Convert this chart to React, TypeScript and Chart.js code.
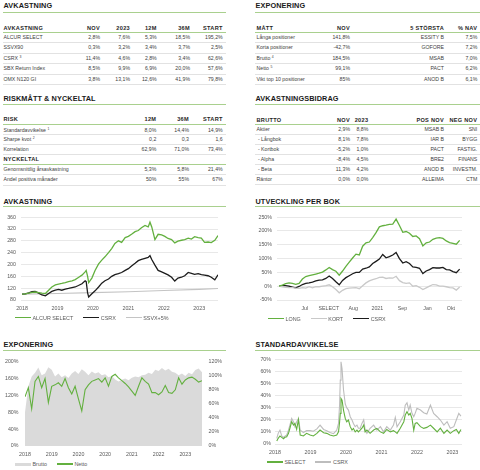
import React, { useEffect, useRef } from "react";
import { Chart, registerables } from "chart.js";

Chart.register(...registerables);

const FONT = "'Liberation Sans', Arial, Helvetica, sans-serif";
Chart.defaults.font.family = FONT;
Chart.defaults.font.size = 5.3;
Chart.defaults.color = "#595959";

// ---------------- colours ----------------
const GREEN = "#63b03f";
const BLACK = "#1c1c1c";
const LIGHT_GREEN = "#a9d08e";

// ---------------- table data ----------------
const avkHeader = ["AVKASTNING", "NOV", "2023", "12M", "36M", "START"];
const avkRows = [
  ["ALCUR SELECT", "2,8%", "7,6%", "5,3%", "18,5%", "195,2%"],
  ["SSVX90", "0,3%", "3,2%", "3,4%", "3,7%", "2,5%"],
  ["CSRX", "11,4%", "4,6%", "2,8%", "3,4%", "62,6%"],
  ["SBX Return Index", "8,5%", "9,9%", "6,9%", "20,0%", "57,6%"],
  ["OMX N120 GI", "3,8%", "13,1%", "12,6%", "41,9%", "79,8%"],
];
const avkSups = ["", "", "3", "", ""];

const expHeader = ["MÅTT", "NOV", "5 STÖRSTA", "% NAV"];
const expRows = [
  ["Långa positioner", "141,8%", "ESSITY B", "7,5%"],
  ["Korta positioner", "-42,7%", "GOFORE", "7,2%"],
  ["Brutto", "184,5%", "MSAB", "7,0%"],
  ["Netto", "99,1%", "PACT", "6,2%"],
  ["Vikt top 10 positioner", "85%", "ANOD B", "6,1%"],
];
const expSups = ["", "", "4", "5", ""];

const riskHeader = ["RISK", "12M", "36M", "START"];
const riskRows = [
  ["Standardavvikelse", "8,0%", "14,4%", "14,9%"],
  ["Sharpe kvot", "0,2", "0,3", "1,6"],
  ["Korrelation", "62,9%", "71,0%", "73,4%"],
];
const riskSups = ["1", "2", ""];
const nyckHeader = ["NYCKELTAL", "", "", ""];
const nyckRows = [
  ["Genomsnittlig årsavkastning", "5,3%", "5,8%", "21,4%"],
  ["Andel positiva månader", "50%", "55%", "67%"],
];

const bidragHeader = ["BRUTTO", "NOV", "2023", "POS NOV", "NEG NOV"];
const bidragRows = [
  ["Aktier", "2,9%", "8,8%", "MSAB B", "SNI"],
  [" - Långbok", "8,1%", "7,8%", "IAR B", "BYGG"],
  [" - Kortbok", "-5,2%", "1,0%", "PACT", "FASTIG."],
  [" - Alpha", "-8,4%", "4,5%", "BRE2", "FINANS"],
  [" - Beta", "11,3%", "4,2%", "ANOD B", "INVESTM."],
  ["Räntor", "0,0%", "0,0%", "ALLEIMA", "CTM"],
];

// ---------------- chart 1: AVKASTNING ----------------
const avkTime = [
  2018.0, 2018.09, 2018.19, 2018.28, 2018.37, 2018.47, 2018.56, 2018.66, 2018.75, 2018.84,
  2018.94, 2019.03, 2019.12, 2019.22, 2019.31, 2019.41, 2019.5, 2019.59, 2019.69, 2019.78,
  2019.81, 2019.85, 2019.88,
  2019.97, 2020.06, 2020.16, 2020.25, 2020.34, 2020.44, 2020.53, 2020.62, 2020.72, 2020.81,
  2020.91, 2021.0, 2021.09, 2021.19, 2021.28, 2021.37, 2021.47, 2021.56,
  2021.61, 2021.66,
  2021.75, 2021.84, 2021.94, 2022.03, 2022.12, 2022.22, 2022.31, 2022.4, 2022.5, 2022.59,
  2022.69, 2022.78, 2022.87, 2022.97, 2023.06, 2023.15, 2023.25, 2023.34, 2023.44, 2023.53,
];
const alcurSelect = [
  100, 101, 103, 106, 107, 105, 103, 102, 113, 124, 131, 134, 136, 139, 142, 145, 149, 156, 164, 175,
  180, 160, 139,
  154, 180, 202, 215, 226, 240, 254, 271, 280, 275, 291, 295, 302, 311, 315, 324, 332, 327,
  343, 327,
  284, 302, 300, 295, 288, 284, 273, 279, 282, 284, 289, 286, 294, 291, 289, 275, 276, 274, 282, 298,
];
const csrxIndex = [
  100, 101, 104, 108, 109, 103, 97, 94, 102, 109, 113, 116, 113, 117, 119, 122, 124, 129, 135, 145,
  142, 104, 90,
  101, 111, 124, 137, 145, 151, 160, 166, 169, 173, 180, 186, 195, 204, 213, 217, 221, 224,
  230, 217,
  198, 180, 175, 170, 165, 157, 144, 154, 157, 162, 173, 170, 167, 169, 166, 164, 162, 157, 148, 165,
];
const ssvxTime = [2018, 2019, 2020, 2021, 2022, 2023, 2023.53];
const ssvxPlus5 = [100, 102, 105, 108, 112, 116, 119];
const yearTicks = [2018, 2019, 2020, 2021, 2022, 2023];
const yearLabels = ["2018", "2019", "2020", "2021", "2022", "2023"];
const avkLegend = ["ALCUR SELECT", "CSRX", "SSVX+5%"];

// ---------------- chart 2: UTVECKLING PER BOK (weekly) ----------------
const bokLong = [
  0, 4, 9, 12, 10, 7, 10, 26, 35, 38, 41, 44, 47, 51, 59, 68, 60, 54, 40, 55,
  72, 87, 102, 116, 113, 145, 157, 160, 176, 194, 215, 219, 221, 224, 225, 243, 220, 195, 198, 192,
  180, 182, 172, 146, 157, 160, 170, 174, 176, 173, 164, 158, 155, 152, 166,
];
const bokKort = [
  0, -2, -4, -5, -5, -7, -8, -5, -7, -2, -6, -2, -2, 0, 2, 5, -2, -12, -24, -15,
  -9, -7, -6, -5, -9, 2, 12, 19, 24, 27, 32, 33, 28, 30, 29, 36, 20, 13, 10, 12,
  0, 2, -4, -12, -6, 0, 6, 5, 0, 0, -2, -5, -6, -14, -3,
];
const bokCsrx = [
  0, 2, 2, 0, -3, -6, -1, 6, 10, 12, 15, 19, 22, 23, 28, 37, 28, 16, 5, 21,
  31, 38, 45, 50, 50, 62, 65, 70, 82, 90, 98, 115, 103, 107, 113, 122, 100, 84, 89, 82,
  70, 68, 65, 46, 55, 60, 67, 66, 66, 68, 60, 59, 53, 49, 62,
];
const bokTickAt = [7.7, 14.9, 22.2, 29.4, 36.9, 44.4, 51.4];
const bokTickLabels = ["Jul", "SELECT", "Aug", "2021", "Sep", "Jan", "Okt"];
const bokLegend = ["LONG", "KORT", "CSRX"];

// ---------------- chart 3: EXPONERING ----------------
const exBrutto = [
  80, 142, 165, 174, 186, 168, 172, 187, 181, 165, 172, 163, 168, 161, 172, 178, 171, 182, 176, 168,
  177, 172, 175, 168, 170, 163, 166, 158, 153, 157, 160, 156, 162, 165, 163, 168, 169, 174, 171, 181,
  178, 185, 179, 183, 176, 174, 168, 172, 166, 174, 170, 180, 184, 175,
];
const exNetto = [
  70, 83, 53, 92, 99, 83, 96, 62, 85, 87, 90, 85, 96, 83, 74, 85, 67, 50, 80, 87,
  92, 94, 96, 91, 97, 85, 99, 102, 97, 93, 89, 84, 78, 72, 85, 97, 92, 88, 76, 76,
  73, 77, 86, 76, 75, 80, 97, 88, 94, 97, 98, 95, 91, 93,
];
const exTickAt = [0, 8, 16, 24, 32, 40, 48];
const exTickLabels = ["2018", "2019", "2020", "2020", "2021", "2022", "2023"];
const exLegend = ["Brutto", "Netto"];

// ---------------- chart 4: STANDARDAVVIKELSE ----------------
const sdTime = [
  2018.05, 2018.09, 2018.14, 2018.19, 2018.24, 2018.28, 2018.33, 2018.38, 2018.42, 2018.47,
  2018.52, 2018.56, 2018.61, 2018.66, 2018.71, 2018.8, 2018.89, 2018.99, 2019.08, 2019.18,
  2019.27, 2019.37, 2019.46, 2019.55, 2019.65, 2019.74, 2019.79, 2019.82, 2019.84, 2019.86,
  2019.89, 2019.93, 2019.98, 2020.02, 2020.07, 2020.12, 2020.17, 2020.21, 2020.26, 2020.31,
  2020.35, 2020.4, 2020.45, 2020.5, 2020.54, 2020.59, 2020.68, 2020.78, 2020.87, 2020.97,
  2021.06, 2021.15, 2021.25, 2021.34, 2021.39, 2021.44, 2021.53, 2021.63, 2021.67, 2021.72,
  2021.77, 2021.81, 2021.86, 2021.91, 2021.95, 2022.0, 2022.1, 2022.19, 2022.28, 2022.38,
  2022.47, 2022.57, 2022.66, 2022.76, 2022.85, 2022.94, 2023.04, 2023.11, 2023.18, 2023.24,
];
const sdSelect = [
  2.5, 4.7, 6.6, 5.5, 4.4, 5.5, 6, 8.8, 13, 18.4,
  15.6, 17, 12, 20, 7.4, 6.6, 8.8, 7.4, 6.6, 8.8,
  11.5, 9.3, 8.8, 7.4, 6.6, 7.4, 10, 18, 25.3, 37.6,
  36.2, 28, 21.1, 18.4, 19.8, 14.3, 11.5, 12.9, 10, 11.5,
  10, 11.5, 13, 15.6, 10, 11.5, 8.8, 11.5, 12.9, 10,
  8.8, 12, 10, 11, 10, 8.8, 13, 18.4, 23.9, 26.6,
  23.9, 25.3, 21.1, 11.5, 17, 17.6, 14.3, 12.9, 13.7, 15.6,
  13, 10, 13, 8.8, 11.5, 8.8, 11, 12, 8.8, 12,
];
const sdCsrx = [
  4.7, 8.8, 11.5, 6.6, 5.5, 6.5, 7.4, 11.5, 15.6, 21.1,
  18.4, 14.3, 18.4, 21, 11.5, 9.5, 11, 11, 10.5, 12.5,
  15.6, 12, 11, 9.5, 8.5, 11.5, 17, 32.1, 52.7, 67.8,
  62, 45, 33, 30, 28, 22.5, 19.8, 17, 14.3, 15.6,
  13, 13, 17, 20, 12, 8.8, 13, 15.6, 11.5, 14.3,
  10, 14.3, 11.5, 15.6, 22, 14.3, 18.4, 23.9, 32.1, 34,
  28, 32.1, 25.3, 22.5, 25.3, 29.4, 28, 25.8, 24.7, 32.1,
  25.3, 22.5, 19.8, 15.6, 18.4, 13, 14.3, 19.8, 25.3, 23,
];
const sdLegend = ["SELECT", "CSRX"];

// ---------------- helpers ----------------
const tickFont = { family: FONT, size: 5.3 };
const pct = (v: any) => `${v}%`;

function yAxis(opts: {
  min: number; max: number; step: number; width: number; pad: number;
  fmt?: (v: any) => string; position?: "left" | "right"; grid?: boolean;
}) {
  return {
    type: "linear",
    position: opts.position || "left",
    min: opts.min,
    max: opts.max,
    ticks: {
      stepSize: opts.step,
      font: tickFont,
      color: "#595959",
      padding: opts.pad,
      callback: opts.fmt || ((v: any) => String(v)),
    },
    grid: { display: opts.grid !== false, color: "#d9d9d9", lineWidth: 0.6, drawTicks: false },
    border: { display: false },
    afterFit: (s: any) => {
      s.width = opts.width;
    },
  };
}

function xAxis(min: number, max: number, tickAt: number[], labels: string[], height: number, pad: number) {
  return {
    type: "linear",
    min,
    max,
    afterBuildTicks: (s: any) => {
      s.ticks = tickAt.map((v) => ({ value: v }));
    },
    ticks: {
      autoSkip: false,
      maxRotation: 0,
      minRotation: 0,
      font: tickFont,
      color: "#595959",
      padding: pad,
      callback: (_v: any, i: number) => labels[i],
    },
    grid: { display: false, drawTicks: false },
    border: { display: false },
    afterFit: (s: any) => {
      s.height = height;
    },
  };
}

function lineDs(label: string, xs: number[], ys: number[], color: string, width: number, extra: any = {}) {
  return {
    label,
    data: xs.map((x, i) => ({ x, y: ys[i] })),
    borderColor: color,
    backgroundColor: color,
    borderWidth: width,
    pointRadius: 0,
    tension: 0,
    fill: false,
    ...extra,
  };
}

const idx = (arr: number[]) => arr.map((_, i) => i);

function baseOptions(padding: any, scales: any) {
  return {
    responsive: false,
    maintainAspectRatio: false,
    animation: false,
    events: [],
    layout: { padding },
    plugins: { legend: { display: false }, tooltip: { enabled: false } },
    scales,
  };
}

function ChartBox(props: { left: number; top: number; width: number; height: number; make: () => any }) {
  const ref = useRef<HTMLCanvasElement>(null);
  useEffect(() => {
    const chart = new Chart(ref.current as HTMLCanvasElement, props.make());
    return () => chart.destroy();
  }, []);
  return (
    <canvas
      ref={ref}
      width={props.width}
      height={props.height}
      style={{ position: "absolute", left: props.left, top: props.top, width: props.width, height: props.height }}
    />
  );
}

function Title(props: { left: number; width: number; textY: number; lineY: number; text: string }) {
  const top = props.textY - 4.2;
  return (
    <div
      style={{
        position: "absolute",
        left: props.left,
        top,
        width: props.width,
        height: props.lineY - top,
        borderBottom: `1px solid ${LIGHT_GREEN}`,
        fontWeight: 700,
        fontSize: 7.3,
        letterSpacing: 0.1,
        lineHeight: "8.4px",
        color: "#1a1a1a",
        whiteSpace: "nowrap",
      }}
    >
      <span style={{ paddingLeft: 0.5 }}>{props.text}</span>
    </div>
  );
}

type Col = { x: number; align: "left" | "right" };

function Row(props: {
  left: number; width: number; top: number; height: number; cols: Col[]; cells: string[];
  bold?: boolean; line: string; sup?: string;
}) {
  return (
    <div
      style={{
        position: "absolute",
        left: props.left,
        top: props.top,
        width: props.width,
        height: props.height,
        boxSizing: "border-box",
        borderBottom: `1px solid ${props.line}`,
      }}
    >
      {props.cells.map((c, i) => {
        const col = props.cols[i];
        const pos: any =
          col.align === "left" ? { left: col.x - props.left } : { right: props.left + props.width - col.x };
        return (
          <div
            key={i}
            style={{
              position: "absolute",
              top: 0,
              ...pos,
              lineHeight: `${props.height - 1}px`,
              fontSize: props.bold ? 5.6 : 5.2,
              fontWeight: props.bold ? 700 : 400,
              letterSpacing: props.bold ? 0.3 : 0,
              color: props.bold ? "#1f1f1f" : "#3d3d3d",
              whiteSpace: "pre",
            }}
          >
            {c}
            {i === 0 && props.sup ? (
              <span style={{ fontSize: 3.4, position: "relative", top: -2, marginLeft: 1.5 }}>{props.sup}</span>
            ) : null}
          </div>
        );
      })}
    </div>
  );
}

function Table(props: {
  left: number; width: number; cols: Col[]; header: string[]; rows: string[][]; sups?: string[];
  headTop: number; headH: number; rowTop: number; rowH: number;
}) {
  return (
    <>
      <Row
        left={props.left}
        width={props.width}
        top={props.headTop}
        height={props.headH}
        cols={props.cols}
        cells={props.header}
        bold
        line={LIGHT_GREEN}
      />
      {props.rows.map((r, i) => (
        <Row
          key={i}
          left={props.left}
          width={props.width}
          top={props.rowTop + i * props.rowH}
          height={props.rowH}
          cols={props.cols}
          cells={r}
          line="#e2e2e2"
          sup={props.sups ? props.sups[i] : undefined}
        />
      ))}
    </>
  );
}

function Legend(props: { left: number; y: number; items: { label: string; color: string; box?: boolean }[] }) {
  return (
    <div
      style={{
        position: "absolute",
        left: props.left,
        top: props.y - 4,
        height: 8,
        display: "flex",
        alignItems: "center",
        gap: 10,
        fontSize: 5.4,
        color: "#595959",
        whiteSpace: "nowrap",
      }}
    >
      {props.items.map((it, i) => (
        <div key={i} style={{ display: "flex", alignItems: "center", gap: 1.5 }}>
          <span style={{ display: "inline-block", width: 16, height: it.box ? 3 : 1.3, background: it.color }} />
          <span>{it.label}</span>
        </div>
      ))}
    </div>
  );
}

// ---------------- chart configs ----------------
function makeAvk() {
  return {
    type: "line",
    data: {
      datasets: [
        lineDs(avkLegend[0], avkTime, alcurSelect, GREEN, 1.3),
        lineDs(avkLegend[1], avkTime, csrxIndex, BLACK, 1.3),
        lineDs(avkLegend[2], ssvxTime, ssvxPlus5, "#c4c4c4", 1.1),
      ],
    },
    options: baseOptions(
      { top: 7, right: 8, left: 0, bottom: 0 },
      {
        x: xAxis(2017.97, 2023.53, yearTicks, yearLabels, 15, 5),
        y: yAxis({ min: 80, max: 360, step: 40, width: 21, pad: 5 }),
      }
    ),
  };
}

function makeBok() {
  return {
    type: "line",
    data: {
      datasets: [
        lineDs(bokLegend[0], idx(bokLong), bokLong, GREEN, 1.3),
        lineDs(bokLegend[1], idx(bokKort), bokKort, "#c9c9c9", 1.3),
        lineDs(bokLegend[2], idx(bokCsrx), bokCsrx, BLACK, 1.3),
      ],
    },
    options: baseOptions(
      { top: 8, right: 18, left: 0, bottom: 0 },
      {
        x: xAxis(-0.6, 54.7, bokTickAt, bokTickLabels, 15, 5),
        y: yAxis({ min: -50, max: 250, step: 50, width: 27, pad: 5, fmt: pct }),
      }
    ),
  };
}

function makeEx() {
  return {
    type: "line",
    data: {
      datasets: [
        lineDs(exLegend[1], idx(exNetto), exNetto, GREEN, 1.1, { yAxisID: "y1", order: 1 }),
        lineDs(exLegend[0], idx(exBrutto), exBrutto, "rgba(0,0,0,0)", 0, {
          yAxisID: "y",
          fill: "origin",
          backgroundColor: "#dadada",
          order: 2,
        }),
      ],
    },
    options: baseOptions(
      { top: 6, right: 0, left: 0, bottom: 0 },
      {
        x: xAxis(0, 53, exTickAt, exTickLabels, 13, 5),
        y: yAxis({ min: 0, max: 200, step: 40, width: 25, pad: 6.5, fmt: pct, grid: false }),
        y1: yAxis({ min: 0, max: 120, step: 20, width: 24, pad: 6.5, fmt: pct, grid: false, position: "right" }),
      }
    ),
  };
}

function makeSd() {
  return {
    type: "line",
    data: {
      datasets: [
        lineDs(sdLegend[0], sdTime, sdSelect, GREEN, 1.1),
        lineDs(sdLegend[1], sdTime, sdCsrx, "#bdbdbd", 1.1),
      ],
    },
    options: baseOptions(
      { top: 7, right: 18, left: 0, bottom: 0 },
      {
        x: xAxis(2018.0, 2023.27, yearTicks, yearLabels, 14, 5),
        y: yAxis({ min: 0, max: 70, step: 10, width: 25, pad: 4, fmt: pct }),
      }
    ),
  };
}

// ---------------- layout ----------------
const colsAvk: Col[] = [
  { x: 3.5, align: "left" },
  { x: 100, align: "right" },
  { x: 130, align: "right" },
  { x: 156.7, align: "right" },
  { x: 190, align: "right" },
  { x: 222.7, align: "right" },
];
const colsExp: Col[] = [
  { x: 256.5, align: "left" },
  { x: 350, align: "right" },
  { x: 444, align: "right" },
  { x: 477.3, align: "right" },
];
const colsRisk: Col[] = [
  { x: 3.5, align: "left" },
  { x: 156.3, align: "right" },
  { x: 189, align: "right" },
  { x: 222.7, align: "right" },
];
const colsBidrag: Col[] = [
  { x: 256.5, align: "left" },
  { x: 350, align: "right" },
  { x: 368.3, align: "right" },
  { x: 444, align: "right" },
  { x: 477.3, align: "right" },
];

export default function App() {
  return (
    <div
      style={{
        position: "fixed",
        left: 0,
        top: 0,
        width: 480,
        height: 470,
        overflow: "hidden",
        background: "#ffffff",
        fontFamily: FONT,
      }}
    >
      <Title left={3} width={223} textY={6.2} lineY={12.3} text="AVKASTNING" />
      <Title left={255} width={225} textY={6.2} lineY={12.3} text="EXPONERING" />
      <Title left={3} width={223} textY={99} lineY={104} text="RISKMÅTT & NYCKELTAL" />
      <Title left={255} width={225} textY={99} lineY={104} text="AVKASTNINGSBIDRAG" />
      <Title left={3} width={223} textY={202} lineY={206.3} text="AVKASTNING" />
      <Title left={255} width={225} textY={202} lineY={206.3} text="UTVECKLING PER BOK" />
      <Title left={3} width={223} textY={345} lineY={350} text="EXPONERING" />
      <Title left={255} width={225} textY={345} lineY={350} text="STANDARDAVVIKELSE" />

      <Table left={3} width={223} cols={colsAvk} header={avkHeader} rows={avkRows} sups={avkSups}
        headTop={24.5} headH={8.5} rowTop={33} rowH={10.4} />
      <Table left={255} width={225} cols={colsExp} header={expHeader} rows={expRows} sups={expSups}
        headTop={24.5} headH={8.5} rowTop={33} rowH={10.4} />
      <Table left={3} width={223} cols={colsRisk} header={riskHeader} rows={riskRows} sups={riskSups}
        headTop={116} headH={8.5} rowTop={125.5} rowH={9.7} />
      <Table left={3} width={223} cols={colsRisk} header={nyckHeader} rows={nyckRows}
        headTop={155} headH={9.5} rowTop={164.5} rowH={10.5} />
      <Table left={255} width={225} cols={colsBidrag} header={bidragHeader} rows={bidragRows}
        headTop={117} headH={8.3} rowTop={125.3} rowH={10} />

      <ChartBox left={0} top={209} width={226} height={106} make={makeAvk} />
      <Legend left={15} y={317.5} items={[
        { label: avkLegend[0], color: GREEN },
        { label: avkLegend[1], color: BLACK },
        { label: avkLegend[2], color: "#c4c4c4" },
      ]} />

      <ChartBox left={250} top={209} width={230} height={106} make={makeBok} />
      <Legend left={268} y={318.5} items={[
        { label: bokLegend[0], color: GREEN },
        { label: bokLegend[1], color: "#c9c9c9" },
        { label: bokLegend[2], color: BLACK },
      ]} />

      <ChartBox left={0} top={352} width={226} height={107} make={makeEx} />
      <Legend left={15} y={464} items={[
        { label: exLegend[0], color: "#dadada", box: true },
        { label: exLegend[1], color: GREEN },
      ]} />

      <ChartBox left={250} top={352} width={230} height={106} make={makeSd} />
      <Legend left={267} y={462} items={[
        { label: sdLegend[0], color: GREEN },
        { label: sdLegend[1], color: "#bdbdbd" },
      ]} />
    </div>
  );
}
